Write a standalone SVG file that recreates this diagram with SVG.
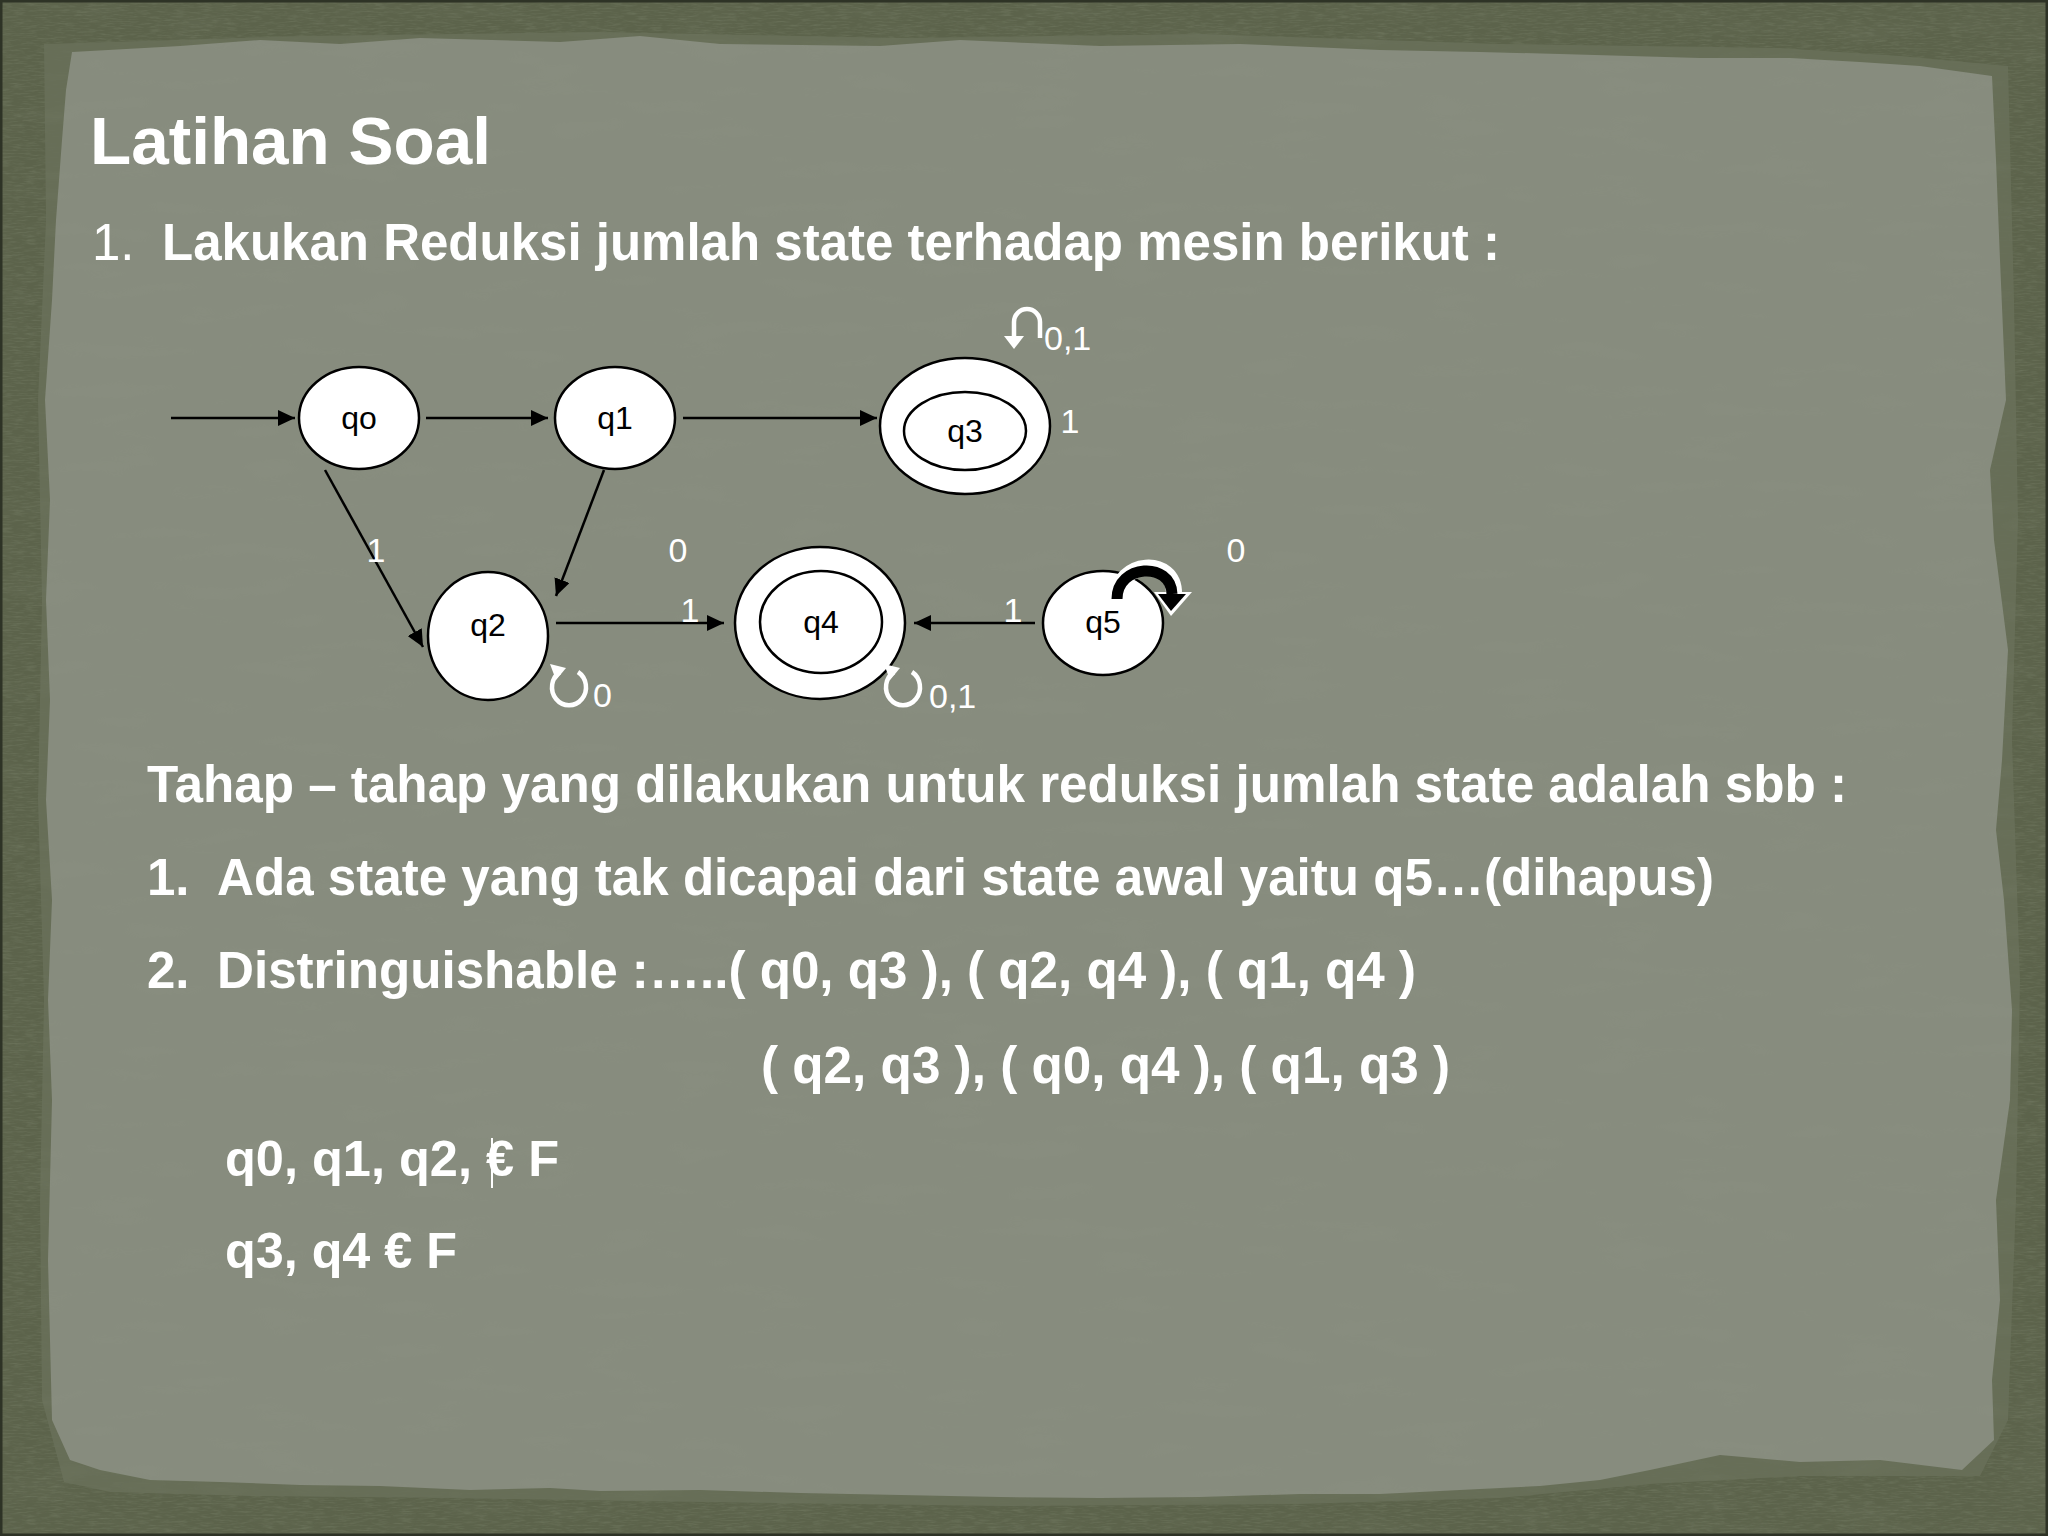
<svg xmlns="http://www.w3.org/2000/svg" width="2048" height="1536" viewBox="0 0 2048 1536">
<defs>
  <style>
    .wt { fill: #ffffff; font-family: "Liberation Sans", Arial, sans-serif; }
    .b { font-weight: bold; }
    .lbl { fill: #ffffff; font-family: "Liberation Sans", Arial, sans-serif; font-size: 34px; }
    .nt { fill: #000000; font-family: "Liberation Sans", Arial, sans-serif; font-size: 32px; text-anchor: middle; }
    .st { fill: #ffffff; stroke: #000000; stroke-width: 2.5; }
    .cn { stroke: #000000; stroke-width: 2.5; fill: none; marker-end: url(#ah); }
    .loopw { fill: none; stroke: #ffffff; stroke-width: 4.5; }
  </style>
  <marker id="ah" markerWidth="17" markerHeight="16" refX="17" refY="8" orient="auto" markerUnits="userSpaceOnUse">
    <path d="M0,0 L17,8 L0,16 z" fill="#000000"/>
  </marker>
  <filter id="grain" x="0" y="0" width="100%" height="100%">
    <feTurbulence type="fractalNoise" baseFrequency="0.08 0.6" numOctaves="3" seed="7"/>
    <feColorMatrix type="matrix" values="0 0 0 0 0.2  0 0 0 0 0.23  0 0 0 0 0.15  0 0 0 1.4 -0.6"/>
  </filter>
  <filter id="grain2" x="0" y="0" width="100%" height="100%">
    <feTurbulence type="fractalNoise" baseFrequency="0.012 0.05" numOctaves="3" seed="2"/>
    <feColorMatrix type="matrix" values="0 0 0 0 0.35  0 0 0 0 0.38  0 0 0 0 0.3  0 0 0 1.2 -0.55"/>
  </filter>
</defs>

<!-- background -->
<rect x="0" y="0" width="2048" height="1536" fill="#5c634b"/>
<rect x="0" y="0" width="2048" height="1536" filter="url(#grain)" opacity="0.6"/>
<polygon fill="#687059" opacity="0.85" points="44,44 300,36 600,32 900,38 1200,34 1500,44 1780,48 1900,56 2008,66 2014,300 2018,520 2012,740 2020,980 2016,1200 2008,1420 1980,1476 1800,1476 1650,1484 1500,1498 1300,1504 1000,1506 700,1502 450,1498 250,1496 110,1492 64,1482 42,1400 40,1200 44,1000 38,800 42,600 38,400 46,220"/>
<polygon fill="#878c7e" points="72,52 180,46 260,40 340,44 420,38 560,42 640,36 720,44 880,46 960,40 1100,46 1240,44 1380,50 1480,52 1560,54 1700,58 1790,58 1860,62 1920,66 1992,76 1996,160 2000,260 2006,400 1990,470 1994,540 2008,650 2002,760 1996,830 2004,900 2012,1010 2010,1100 1996,1200 2000,1300 1992,1380 1994,1440 1962,1470 1880,1460 1800,1462 1720,1455 1650,1470 1600,1480 1540,1486 1460,1490 1380,1494 1300,1494 1200,1497 1100,1498 1000,1497 900,1495 800,1493 700,1490 600,1491 550,1488 470,1490 380,1486 300,1485 220,1482 150,1480 100,1470 70,1460 52,1420 50,1340 48,1260 50,1180 52,1100 48,1000 52,900 46,800 50,700 46,600 50,500 45,400 52,300 56,220 62,140 66,90"/>
<rect x="0" y="0" width="2048" height="1536" filter="url(#grain2)" opacity="0.12"/>
<rect x="1" y="1" width="2046" height="1534" fill="none" stroke="#2e3326" stroke-width="3"/>

<!-- texts -->
<text class="wt b" x="90" y="164" font-size="67" textLength="401" lengthAdjust="spacingAndGlyphs">Latihan Soal</text>
<text class="wt" x="92" y="260" font-size="51">1.</text>
<text class="wt b" x="162" y="260" font-size="51" textLength="1338" lengthAdjust="spacingAndGlyphs">Lakukan Reduksi jumlah state terhadap mesin berikut :</text>

<text class="wt b" x="147" y="802" font-size="51" textLength="1700" lengthAdjust="spacingAndGlyphs">Tahap – tahap yang dilakukan untuk reduksi jumlah state adalah sbb :</text>
<text class="wt b" x="147" y="895" font-size="51">1.</text>
<text class="wt b" x="217" y="895" font-size="51" textLength="1497" lengthAdjust="spacingAndGlyphs">Ada state yang tak dicapai dari state awal yaitu q5…(dihapus)</text>
<text class="wt b" x="147" y="988" font-size="51">2.</text>
<text class="wt b" x="217" y="988" font-size="51" textLength="1199" lengthAdjust="spacingAndGlyphs">Distringuishable :…..( q0, q3 ), ( q2, q4 ), ( q1, q4 )</text>
<text class="wt b" x="761" y="1083" font-size="51" textLength="689" lengthAdjust="spacingAndGlyphs">( q2, q3 ), ( q0, q4 ), ( q1, q3 )</text>
<text class="wt b" x="225" y="1176" font-size="50" textLength="334" lengthAdjust="spacingAndGlyphs">q0, q1, q2, € F</text>
<line x1="492" y1="1138" x2="492" y2="1188" stroke="#ffffff" stroke-width="2"/>
<text class="wt b" x="225" y="1268" font-size="50" textLength="232" lengthAdjust="spacingAndGlyphs">q3, q4 € F</text>

<!-- connectors -->
<g id="connectors">
  <path class="cn" d="M171,418 L295,418"/>
  <path class="cn" d="M426,418 L548,418"/>
  <path class="cn" d="M683,418 L877,418"/>
  <path class="cn" d="M325,470 L423,647"/>
  <path class="cn" d="M604,470 L556,596"/>
  <path class="cn" d="M556,623 L724,623"/>
  <path class="cn" d="M1035,623 L914,623"/>
</g>

<!-- nodes -->
<g id="node-q0">
  <ellipse class="st" cx="359" cy="418" rx="60" ry="51"/>
  <text class="nt" x="359" y="429">qo</text>
</g>
<g id="node-q1">
  <ellipse class="st" cx="615" cy="418" rx="60" ry="51"/>
  <text class="nt" x="615" y="429">q1</text>
</g>
<g id="node-q3">
  <ellipse class="st" cx="965" cy="426" rx="85" ry="68"/>
  <ellipse class="st" cx="965" cy="431" rx="61" ry="39"/>
  <text class="nt" x="965" y="442" font-size="27">q3</text>
</g>
<g id="node-q2">
  <ellipse class="st" cx="488" cy="636" rx="60" ry="64"/>
  <text class="nt" x="488" y="636">q2</text>
</g>
<g id="node-q4">
  <ellipse class="st" cx="820" cy="623" rx="85" ry="76"/>
  <ellipse class="st" cx="821" cy="622" rx="61" ry="51"/>
  <text class="nt" x="821" y="633">q4</text>
</g>
<g id="node-q5">
  <ellipse class="st" cx="1103" cy="623" rx="60" ry="52"/>
  <text class="nt" x="1103" y="633">q5</text>
</g>

<!-- self loops -->
<g id="loop-q3">
  <path class="loopw" d="M1040,338 L1040,322 A13 13 0 0 0 1014,322 L1014,337"/>
  <polygon points="1004,336 1024,336 1014,349" fill="#ffffff"/>
  <text class="lbl" x="1044" y="350">0,1</text>
</g>
<g id="loop-q2">
  <path class="loopw" d="M560,672 A17 18 0 1 0 578,672"/>
  <polygon points="550,664 566,668 556,680" fill="#ffffff"/>
  <text class="lbl" x="593" y="707">0</text>
</g>
<g id="loop-q4">
  <path class="loopw" d="M894,672 A17 18 0 1 0 912,672"/>
  <polygon points="884,664 900,668 890,680" fill="#ffffff"/>
  <text class="lbl" x="929" y="708">0,1</text>
</g>
<g id="loop-q5">
  <path d="M1117,599 C1117,560 1175,556 1174,594" fill="none" stroke="#ffffff" stroke-width="16"/>
  <polygon points="1154,592 1192,592 1171,616" fill="#ffffff"/>
  <path d="M1117,599 C1117,564 1171,561 1172,594" fill="none" stroke="#000000" stroke-width="11"/>
  <polygon points="1158,594 1186,594 1171,611" fill="#000000"/>
</g>

<!-- edge labels -->
<g id="labels">
  <text class="lbl" x="376" y="562" text-anchor="middle">1</text>
  <text class="lbl" x="678" y="562" text-anchor="middle">0</text>
  <text class="lbl" x="1236" y="562" text-anchor="middle">0</text>
  <text class="lbl" x="690" y="622" text-anchor="middle">1</text>
  <text class="lbl" x="1013" y="622" text-anchor="middle">1</text>
  <text class="lbl" x="1070" y="433" text-anchor="middle">1</text>
</g>
</svg>
